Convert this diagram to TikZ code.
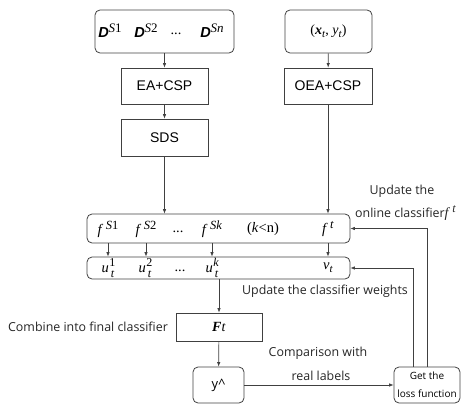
\documentclass[tikz,border=0pt]{standalone}
\usepackage{fontspec}
\setmainfont{Liberation Serif}
\setsansfont{Liberation Sans}
\newfontfamily\lab{Open Sans}
\usetikzlibrary{arrows.meta}
\definecolor{ln}{HTML}{404040}
\newcommand\Dsup[1]{{\sffamily\bfseries\itshape D}\raisebox{5pt}{\fontsize{13}{14}\selectfont #1}}
\newcommand\fsup[1]{\textit{f}\,\raisebox{5pt}{\fontsize{12.5}{13}\selectfont #1}}
\newcommand\usub[1]{\textit{u}\rlap{\raisebox{6pt}{\fontsize{12}{13}\selectfont\kern0.5pt #1}}\raisebox{-5pt}{\fontsize{12}{13}\selectfont\kern2pt\textit{t}}}
\tikzset{
 box/.style={draw=ln, line width=0.8pt, inner sep=0, font=\sffamily\fontsize{14}{16}\selectfont},
 rbox/.style={box, rounded corners=5pt},
 arr/.style={draw=ln, line width=0.7pt, -{Latex[length=4.5pt,width=3.5pt]}},
 lbl/.style={font=\lab\fontsize{12.4}{14}\selectfont, inner sep=0, text=black!85},
 term/.style={inner sep=0, font=\rmfamily\fontsize{14.5}{16}\selectfont},
}
\begin{document}
\begin{tikzpicture}[x=1pt,y=-1pt]
\useasboundingbox (0,0) rectangle (474,412);
% top boxes
\node[rbox, minimum width=139pt, minimum height=43pt] (D) at (164.5,31.5) {};
\node[term] (d1) at (110,31) {\Dsup{\textit{S}1}};
\node[term] (d2) at (146,31) {\Dsup{\textit{S}2}};
\node[term] (dd) at (176,34) {...};
\node[term] (dn) at (212,31) {\Dsup{\textit{Sn}}};
\node[rbox, minimum width=87pt, minimum height=43pt, font=\rmfamily\fontsize{14}{16}\selectfont] (xy) at (328.5,31.5) {(\textbf{\textit{x}}\raisebox{-3pt}{\fontsize{11}{12}\selectfont\textit{t}}, \textit{y}\raisebox{-3pt}{\fontsize{11}{12}\selectfont\textit{t}})};
\node[box, minimum width=87pt, minimum height=36pt] (ea) at (164.5,86) {EA+CSP};
\node[box, minimum width=87pt, minimum height=37pt] (sds) at (164.5,137.5) {SDS};
\node[box, minimum width=88pt, minimum height=36pt] (oea) at (328,86) {OEA+CSP};
% classifier boxes
\node[rbox, minimum width=263pt, minimum height=29pt] (fb) at (218.5,228.5) {};
\node[term] (f1) at (108,229) {\fsup{\textit{S}1}};
\node[term] (f2) at (146,229) {\fsup{\textit{S}2}};
\node[term] (fd) at (178,232) {...};
\node[term] (fk) at (212,229) {\fsup{\textit{Sk}}};
\node[term] (kn) at (263,229) {(\textit{k}<n)};
\node[term] (ft) at (328,229) {\fsup{\textit{t}}};
\node[rbox, minimum width=263pt, minimum height=22pt] (ub) at (218.5,268) {};
\node[term] (u1) at (108,268) {\usub{1}};
\node[term] (u2) at (145,268) {\usub{2}};
\node[term] (ud) at (180,271) {...};
\node[term] (uk) at (212,268) {\usub{\textit{k}}};
\node[term] (vt) at (328,268) {\textit{v}\raisebox{-3pt}{\fontsize{11}{12}\selectfont\textit{t}}};
% lower boxes
\node[box, minimum width=86pt, minimum height=28pt, font=\rmfamily\fontsize{14}{16}\selectfont] (Ft) at (219,327) {\textbf{\textit{F}}\textit{t}};
\node[rbox, minimum width=51pt, minimum height=36pt, font=\lab\fontsize{13}{15}\selectfont] (yh) at (218.5,385) {y\^{}};
\node[rbox, minimum width=66pt, minimum height=36pt, align=center, font=\lab\fontsize{10}{18}\selectfont] (loss) at (427,385) {Get the\\loss function};
% labels
\node[lbl] (lw) at (325,291) {Update the classifier weights};
\node[lbl] (lc) at (88,327) {Combine into final classifier};
\node[lbl] (lcmp) at (318,353) {Comparison with};
\node[lbl] (lreal) at (321,376) {real labels};
\node[lbl] (lupd) at (402,191) {Update the};
\node[lbl, anchor=west] (lonl) at (355,213) {online classifier{\rmfamily\fontsize{14}{16}\selectfont\textit{f}\,\raisebox{5pt}{\fontsize{12}{13}\selectfont\textit{t}}}};
% connectors
\draw[arr] (D) -- (ea);
\draw[arr] (xy) -- (oea);
\draw[arr] (ea) -- (sds);
\draw[arr] (sds.south) -- (sds.south |- fb.north);
\draw[arr] (oea.south) -- (oea.south |- fb.north);
\foreach \n in {f1,f2,fk,ft} \draw[arr] (fb.south -| \n) -- (ub.north -| \n);
\draw[arr] (ub.south -| Ft) -- (Ft.north);
\draw[arr] (Ft) -- (yh);
\draw[arr] (yh) -- (loss);
\draw[arr] ([xshift=-14pt]loss.north) |- (ub.east);
\draw[arr] (loss.north) |- (fb.east);
\end{tikzpicture}
\end{document}
